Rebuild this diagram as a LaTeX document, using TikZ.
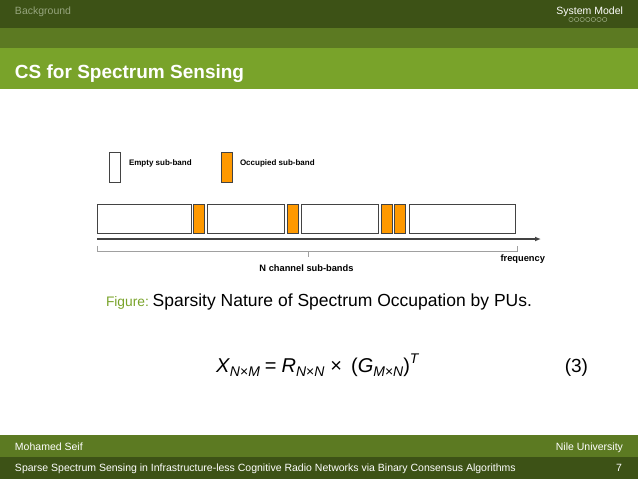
\documentclass[tikz,border=0pt]{standalone}
\usepackage{fontspec}
\setmainfont{Liberation Sans}
\usetikzlibrary{arrows.meta}
\definecolor{hdark}{RGB}{61,82,22}
\definecolor{hmid}{RGB}{92,122,34}
\definecolor{htitle}{RGB}{121,163,42}
\definecolor{bgtext}{RGB}{150,165,125}
\definecolor{bandorange}{RGB}{255,153,0}
\definecolor{bandline}{RGB}{67,67,67}
\definecolor{bracegray}{RGB}{160,160,160}
\definecolor{figgreen}{RGB}{121,163,42}
\newcommand{\fsz}[1]{\fontsize{#1}{#1}\selectfont}
\newcommand{\subx}[1]{\lower4.5pt\hbox{\fsz{14}#1}}
\tikzset{
  txt/.style={inner sep=0pt, outer sep=0pt},
  emptyband/.style={draw=bandline, line width=1pt, fill=white, inner sep=0pt, minimum height=29pt},
  occband/.style={draw=bandline, line width=1pt, fill=bandorange, inner sep=0pt, minimum height=29pt, minimum width=11pt},
  legbox/.style={draw=bandline, line width=1pt, inner sep=0pt, minimum height=30pt, minimum width=11pt},
  dotc/.style={draw=bgtext, line width=0.5pt, circle, inner sep=0pt, minimum size=4.4pt},
}
\begin{document}
\begin{tikzpicture}[x=1pt,y=-1pt]
\useasboundingbox (0,0) rectangle (638,479);
% bars
\fill[hdark] (0,0) rectangle (638,28);
\fill[hmid] (0,28) rectangle (638,48);
\fill[htitle] (0,48) rectangle (638,89);
\fill[hmid] (0,435) rectangle (638,457);
\fill[hdark] (0,457) rectangle (638,479);
% header
\node[txt, anchor=base west, text=bgtext, font=\fsz{10.5}] (sec1) at (15,14) {Background};
\node[txt, anchor=base east, text=white, font=\fsz{10.5}] (sec2) at (623,14) {System Model};
\foreach \i in {0,...,6} {
  \node[dotc] (d\i) at (571+5.6*\i,19.5) {};
}
% title
\node[txt, anchor=base west, text=white, font=\bfseries\fsz{19}] (title) at (15,78) {CS for Spectrum Sensing};
% legend
\node[legbox, fill=white] (le) at (114.5,167) {};
\node[txt, anchor=base west, font=\bfseries\fsz{8}] (let) at (129,165) {Empty sub-band};
\node[legbox, fill=bandorange] (lo) at (227,167) {};
\node[txt, anchor=base west, font=\bfseries\fsz{8}] (lot) at (240,165) {Occupied sub-band};
% bands
\node[emptyband, minimum width=94pt] (b1) at (144,218.5) {};
\node[occband] (o1) at (198.5,218.5) {};
\node[emptyband, minimum width=77pt] (b2) at (245.5,218.5) {};
\node[occband] (o2) at (292.5,218.5) {};
\node[emptyband, minimum width=77pt] (b3) at (339.5,218.5) {};
\node[occband] (o3) at (386.5,218.5) {};
\node[occband] (o4) at (399.5,218.5) {};
\node[emptyband, minimum width=106pt] (b4) at (462,218.5) {};
% axis
\coordinate (ax0) at (97,239);
\coordinate (ax1) at (541,239);
\draw[line width=1.2pt, draw=bandline, -{Latex[length=6pt,width=5pt]}] (ax0) -- (ax1);
% brace
\coordinate (br0) at (97,245.5);
\coordinate (br1) at (517,245.5);
\coordinate (brm) at (308,251.5);
\coordinate (brt) at (308,256.5);
\draw[bracegray, line width=1pt] (br0) |- (brm) -| (br1);
\draw[bracegray, line width=1pt] (brm) -- (brt);
\node[txt, anchor=base east, font=\bfseries\fsz{9.3}] (freq) at (545,261) {frequency};
\node[txt, anchor=base, font=\bfseries\fsz{9.3}] (nch) at (306.5,271.5) {N channel sub-bands};
% caption
\node[txt, anchor=base west] (cap) at (106,306) {{\color{figgreen}\fsz{13.8}Figure:} \fsz{17.5}Sparsity Nature of Spectrum Occupation by PUs.};
% equation
\node[txt, anchor=base west, font=\fsz{20}] (eq) at (216,372) {\textit{X}\subx{\textit{N}×\textit{M}}\hspace{5pt}=\hspace{5pt}\textit{R}\subx{\textit{N}×\textit{N}}\hspace{6pt}×\hspace{9pt}(\textit{G}\subx{\textit{M}×\textit{N}})\raise9pt\hbox{\fsz{14}\textit{T}}};
\node[txt, anchor=base east, font=\fsz{19}] (eqn) at (588,372) {(3)};
% footer
\node[txt, anchor=base west, text=white, font=\fsz{10.5}] (auth) at (15,450.5) {Mohamed Seif};
\node[txt, anchor=base east, text=white, font=\fsz{10.5}] (inst) at (623,450.5) {Nile University};
\node[txt, anchor=base west, text=white, font=\fsz{10.5}] (ftitle) at (15,471.5) {Sparse Spectrum Sensing in Infrastructure-less Cognitive Radio Networks via Binary Consensus Algorithms};
\node[txt, anchor=base east, text=white, font=\fsz{10.5}] (pg) at (622,471.5) {7};
\end{tikzpicture}
\end{document}
